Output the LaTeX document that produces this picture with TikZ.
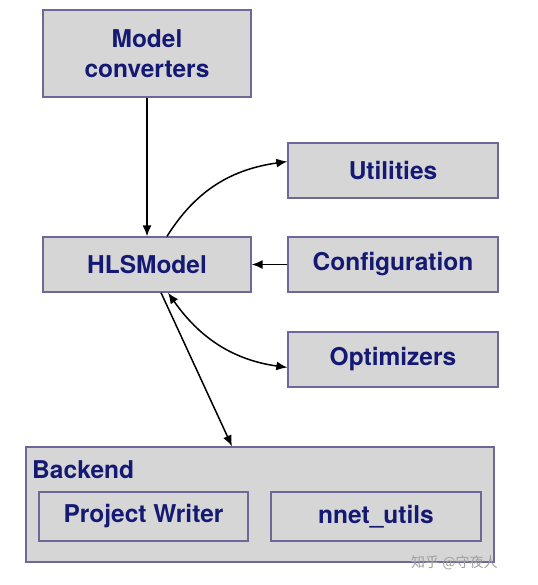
\documentclass[tikz,border=0pt]{standalone}
\usepackage{fontspec}
\setmainfont{TeX Gyre Heros}
\newfontfamily\cjkfont{Noto Sans CJK SC}
\usetikzlibrary{arrows.meta}
\definecolor{boxfill}{RGB}{214,214,214}
\definecolor{boxline}{RGB}{112,102,152}
\definecolor{boxtext}{RGB}{20,26,115}
\begin{document}
\begin{tikzpicture}[x=1pt,y=-1pt,
  box/.style={draw=boxline,fill=boxfill,line width=1.3pt,inner sep=0pt,
    minimum width=208pt,minimum height=55pt,align=center,
    text=boxtext,font=\fontsize{24.5}{30}\selectfont\bfseries},
  arr/.style={line width=1.5pt,-{Latex[length=11pt,width=9pt]}},
  barr/.style={line width=1.5pt,{Latex[length=11pt,width=9pt]}-{Latex[length=11pt,width=9pt]}}]
\useasboundingbox (0,0) rectangle (537,585);
\node[box,minimum height=87pt] (mc) at (147,53.5) {Model\\converters};
\node[box,minimum width=210pt] (util) at (393,170.5) {Utilities};
\node[box] (hls) at (147,264.5) {HLSModel};
\node[box,minimum width=210pt] (conf) at (393,264.5) {Configuration};
\node[box,minimum width=210pt] (opt) at (393,359.5) {Optimizers};
\node[draw=boxline,fill=boxfill,line width=1.3pt,inner sep=0pt,
  minimum width=468pt,minimum height=115pt] (be) at (260,504.5) {};
\node[anchor=west,text=boxtext,font=\fontsize{24.5}{30}\selectfont\bfseries,inner sep=0pt] (betxt) at (32,470) {Backend};
\node[box,minimum width=209pt,minimum height=49pt] (pw) at (143.5,516.5) {Project Writer};
\node[box,minimum width=210pt,minimum height=49pt] (nu) at (376,516.5) {nnet\_utils};
\draw[arr] (mc.south) -- (hls.north);
\draw[arr] (conf.west) -- (hls.east);
\draw[arr] ([xshift=20pt]hls.north) to[out=58,in=188] ([yshift=9pt]util.west);
\draw[barr] ([xshift=21pt]hls.south) to[out=-55,in=172] ([yshift=-8pt]opt.west);
\draw[arr] ([xshift=14pt]hls.south) -- ([xshift=-28pt]be.north);
\node[anchor=west,text=black!38,font=\cjkfont\fontsize{14}{16}\selectfont,inner sep=0pt] (wm) at (411,563) {知乎 @守夜人};
\end{tikzpicture}
\end{document}
